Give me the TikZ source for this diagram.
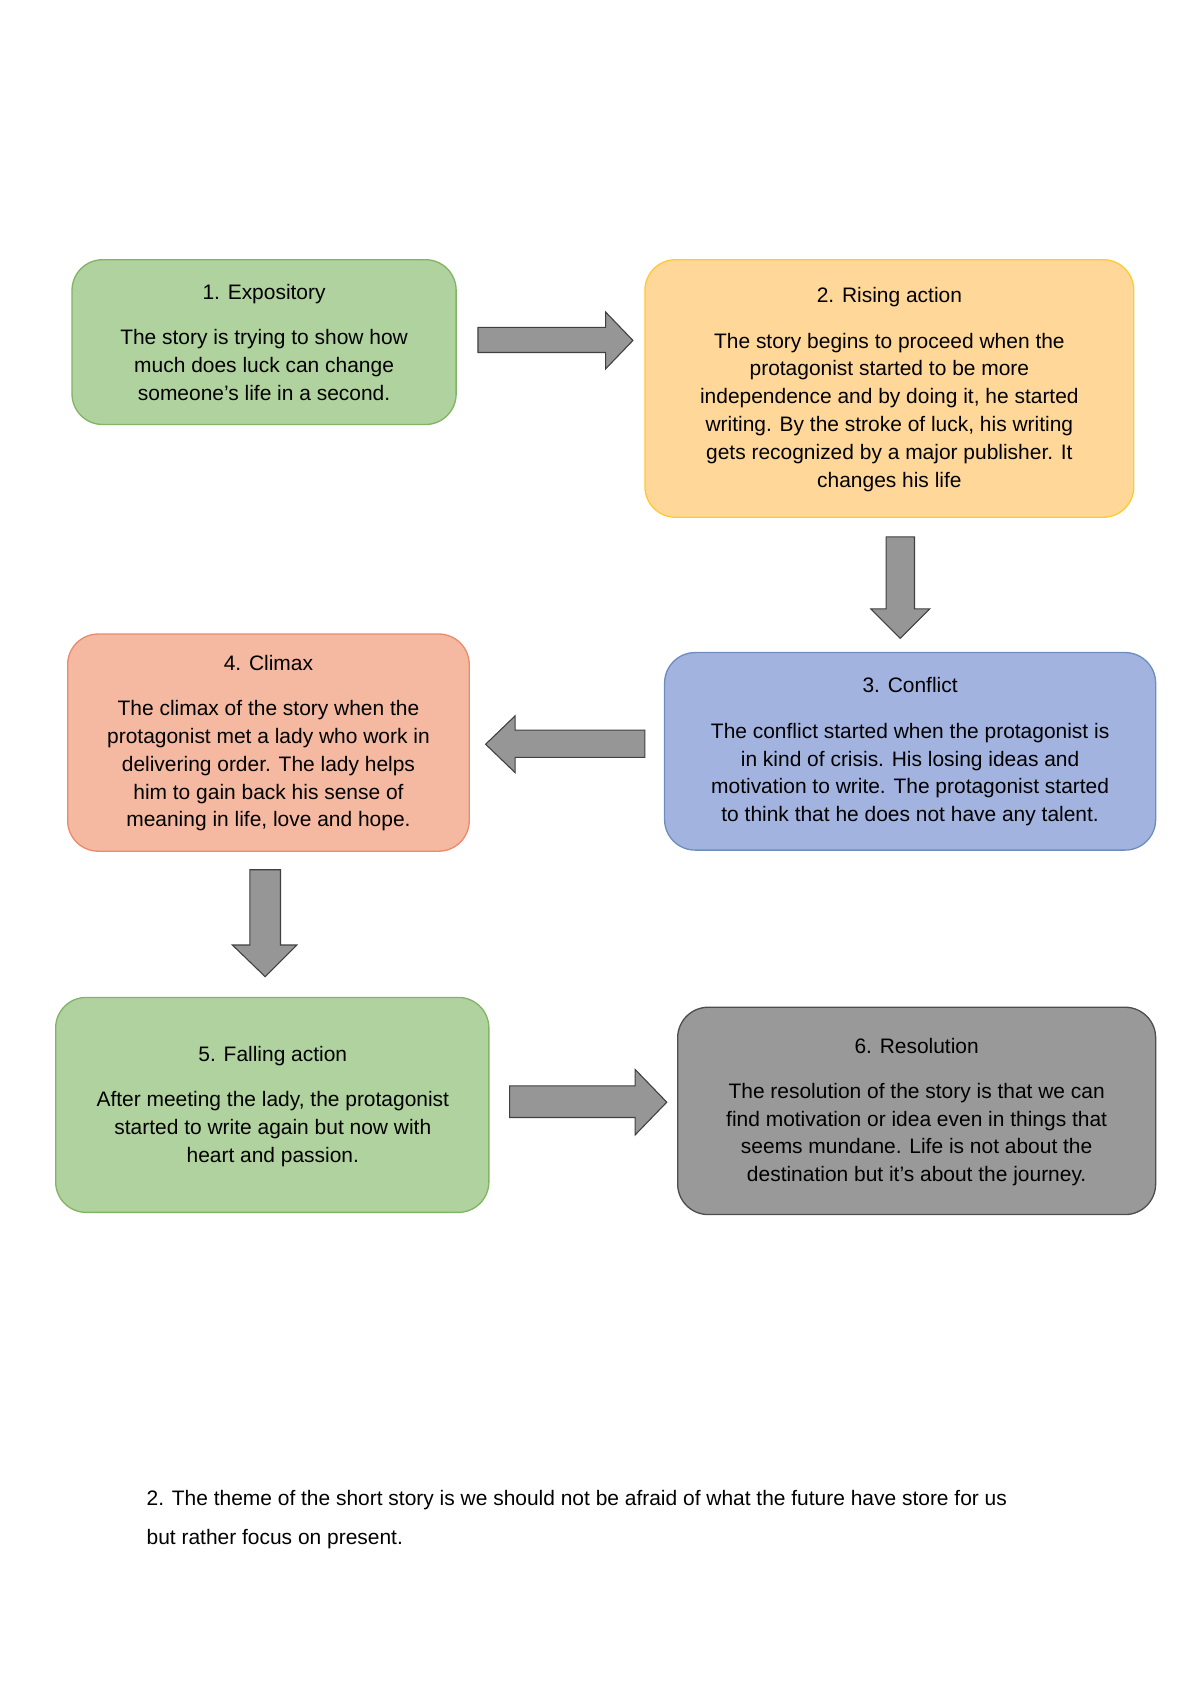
\documentclass[tikz,border=0pt]{standalone}
\usepackage{fontspec}
\setmainfont{Liberation Sans}
\begin{document}
\begin{tikzpicture}[x=0.5pt,y=-0.5pt,
  box/.style={rounded corners=14pt,line width=0.6pt,align=center,inner sep=0pt,
    font=\fontsize{9.6}{12.75}\selectfont},
  arr/.style={fill=gray!80!white!95,draw=black!75,line width=0.5pt},
  txt/.style={align=center,font=\fontsize{9.6}{12.75}\selectfont,inner sep=0pt}]
\definecolor{gf}{HTML}{B0D29E}\definecolor{gd}{HTML}{82B366}
\definecolor{of}{HTML}{FFD899}\definecolor{od}{HTML}{FFC933}
\definecolor{bf}{HTML}{A3B3DF}\definecolor{bd}{HTML}{6C8EBF}
\definecolor{rf}{HTML}{F5B8A0}\definecolor{rd}{HTML}{EA8B6B}
\definecolor{kf}{HTML}{999999}\definecolor{kd}{HTML}{4D4D4D}
\definecolor{af}{HTML}{969696}
\useasboundingbox (0,0) rectangle (1100,1556);
\draw[fill=gf,draw=gd,box] (66,238) rectangle (418,389);
\node[txt] (t1) at (242,314) {1. Expository\\[8pt]The story is trying to show how\\much does luck can change\\someone's life in a second.};
\draw[fill=of,draw=od,box] (591,238) rectangle (1039,474);
\node[txt] (t2) at (815,357) {2. Rising action\\[8pt]The story begins to proceed when the\\protagonist started to be more\\independence and by doing it, he started\\writing. By the stroke of luck, his writing\\gets recognized by a major publisher. It\\changes his life};
\draw[fill=bf,draw=bd,box] (609,598) rectangle (1059,779);
\node[txt] (t3) at (834,689) {3. Conflict\\[8pt]The conflict started when the protagonist is\\in kind of crisis. His losing ideas and\\motivation to write. The protagonist started\\to think that he does not have any talent.};
\draw[fill=rf,draw=rd,box] (62,581) rectangle (430,780);
\node[txt] (t4) at (246,681) {4. Climax\\[8pt]The climax of the story when the\\protagonist met a lady who work in\\delivering order. The lady helps\\him to gain back his sense of\\meaning in life, love and hope.};
\draw[fill=gf,draw=gd,box] (51,914) rectangle (448,1111);
\node[txt] (t5) at (250,1014) {5. Falling action\\[8pt]After meeting the lady, the protagonist\\started to write again but now with\\heart and passion.};
\draw[fill=kf,draw=kd,box] (621,923) rectangle (1059,1113);
\node[txt] (t6) at (840,1019) {6. Resolution\\[8pt]The resolution of the story is that we can\\find motivation or idea even in things that\\seems mundane. Life is not about the\\destination but it's about the journey.};
% arrows
\draw[arr,fill=af] (438,300)--(555,300)--(555,286)--(580,312)--(555,338)--(555,323)--(438,323)--cycle;
\draw[arr,fill=af] (812,492)--(838,492)--(838,558)--(852,558)--(825,585)--(798,558)--(812,558)--cycle;
\draw[arr,fill=af] (591,669)--(472,669)--(472,656)--(445,682)--(472,708)--(472,694)--(591,694)--cycle;
\draw[arr,fill=af] (229,797)--(257,797)--(257,866)--(272,866)--(243,895)--(213,866)--(229,866)--cycle;
\draw[arr,fill=af] (467,995)--(582,995)--(582,980)--(611,1010)--(582,1040)--(582,1024)--(467,1024)--cycle;
\node[anchor=base west,inner sep=0pt,font=\fontsize{9.6}{12}\selectfont] (q1) at (134,1380) {2. The theme of the short story is we should not be afraid of what the future have store for us};
\node[anchor=base west,inner sep=0pt,font=\fontsize{9.6}{12}\selectfont] (q2) at (134,1415) {but rather focus on present.};
\end{tikzpicture}
\end{document}
